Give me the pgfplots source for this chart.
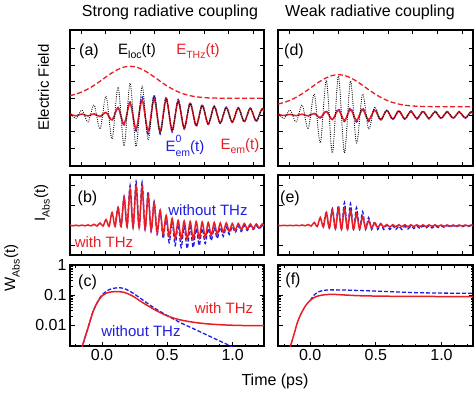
\documentclass[border=0pt]{standalone}
\usepackage{pgfplots}
\pgfplotsset{compat=1.18}
\usepackage{fontspec}
\setmainfont{Liberation Sans}
\definecolor{cred}{RGB}{232,30,36}
\definecolor{cblue}{RGB}{30,30,225}
\newcommand{\fs}{\fontsize{16}{19}\selectfont}
\newcommand{\fsa}{\fontsize{15}{18}\selectfont}
\newcommand{\sbs}[1]{\raisebox{-0.3em}{\fontsize{10.5}{12}\selectfont #1}}
\newcommand{\sps}[1]{\raisebox{0.6em}{\fontsize{10.5}{12}\selectfont #1}}
\pgfplotsset{
 panel/.style={scale only axis, width=194pt, xmin=-0.245, xmax=1.24,
  axis line style={line width=1.1pt}, tick style={line width=0.8pt,black},
  major tick length=4.5pt, minor tick length=2.5pt, tick align=inside,
  xticklabels={}, yticklabels={},
  tick label style={font=\fs}},
 osc/.style={panel, xtick={-0.16,0.028,0.216,0.404,0.592,0.78,0.968,1.156}},
 redl/.style={cred, line width=1.5pt, smooth, no markers},
 redd/.style={cred, line width=1.3pt, smooth, no markers, dash pattern=on 5pt off 2.5pt},
 bluel/.style={cblue, line width=1.3pt, smooth, no markers, dash pattern=on 4pt off 2pt},
 blackl/.style={black, line width=1.2pt, smooth, no markers, line cap=round, dash pattern=on 0pt off 2.2pt},
}
\begin{document}
\begin{tikzpicture}
\useasboundingbox (0,0) rectangle (474pt,392pt);
% ---------- (a)
\begin{axis}[osc, at={(70pt,226pt)}, anchor=south west, height=136pt, ymin=-51, ymax=85,
  ytick={-33.3,-16.7,0,16.7,33.3,50,66.7}]
\addplot[redd] coordinates {(-0.245,19.3) (-0.185,21.5) (-0.135,24.2) (-0.085,27.7) (-0.035,31.9) (0.015,36.6) (0.065,41.2) (0.115,45.1) (0.165,47.8) (0.215,48.7) (0.265,47.8) (0.315,45.1) (0.365,41.2) (0.415,36.6) (0.465,31.9) (0.515,27.7) (0.565,24.2) (0.615,21.5) (0.665,19.6) (0.715,18.3) (0.765,17.6) (0.815,17.1) (0.915,16.8) (1.015,16.7) (1.24,16.7)};
\addplot[bluel] coordinates {(-0.061,1.2) (-0.015,-1.5) (0.031,2.5) (0.077,-5) (0.123,7.5) (0.169,-10) (0.215,13) (0.261,-16) (0.307,18) (0.353,-19) (0.399,19.5) (0.445,-19) (0.491,18) (0.537,-17) (0.583,15.5) (0.629,-14) (0.675,12.5) (0.721,-11.5) (0.767,10.5) (0.813,-9.5) (0.859,9) (0.905,-8.5) (0.951,8) (0.997,-7.5) (1.043,7.5) (1.089,-7) (1.135,7) (1.181,-6.5) (1.227,6.5) (1.273,-6.5)};
\addplot[redl] coordinates {(-0.245,0.8) (-0.199,-0.8) (-0.153,1) (-0.107,-1) (-0.061,1.2) (-0.015,-1.5) (0.031,2.5) (0.077,-5) (0.123,7) (0.169,-9) (0.215,12) (0.261,-14) (0.307,15) (0.353,-16) (0.399,16) (0.445,-16.5) (0.491,16) (0.537,-15) (0.583,14) (0.629,-13) (0.675,11.5) (0.721,-10.5) (0.767,9.5) (0.813,-9) (0.859,8.5) (0.905,-8) (0.951,7.5) (0.997,-7) (1.043,7) (1.089,-6.5) (1.135,6.5) (1.181,-6) (1.227,6) (1.273,-6)};
\addplot[blackl] coordinates {(-0.245,2.5) (-0.199,-3.5) (-0.153,5) (-0.107,-7) (-0.061,10) (-0.015,-14) (0.031,19) (0.077,-24) (0.123,28) (0.169,-31) (0.215,32) (0.261,-31.5) (0.307,29) (0.353,-25) (0.399,20) (0.445,-18) (0.491,16) (0.537,-15.5) (0.583,14) (0.629,-13) (0.675,11.5) (0.721,-10.5) (0.767,9.5) (0.813,-9) (0.859,8.5) (0.905,-8) (0.951,7.5) (0.997,-7) (1.043,7) (1.089,-6.5) (1.135,6.5) (1.181,-6) (1.227,6) (1.273,-6)};
\end{axis}
% ---------- (d)
\begin{axis}[osc, at={(278pt,226pt)}, anchor=south west, height=136pt, width=195pt, ymin=-51, ymax=85,
  ytick={-33.3,-16.7,0,16.7,33.3,50,66.7}]
\addplot[redd] coordinates {(-0.245,10.9) (-0.185,13.1) (-0.135,15.8) (-0.085,19.3) (-0.035,23.5) (0.015,28.2) (0.065,32.8) (0.115,36.7) (0.165,39.4) (0.215,40.3) (0.265,39.4) (0.315,36.7) (0.365,32.8) (0.415,28.2) (0.465,23.5) (0.515,19.3) (0.565,15.8) (0.615,13.1) (0.665,11.2) (0.715,9.9) (0.765,9.2) (0.815,8.7) (0.915,8.4) (1.015,8.3) (1.24,8.3)};
\addplot[bluel] coordinates {(-0.015,-1) (0.031,1.5) (0.077,-3) (0.123,4) (0.169,-5) (0.215,6) (0.261,-6.5) (0.307,7) (0.353,-7) (0.399,7) (0.445,-6.5) (0.491,6) (0.537,-5.5) (0.583,5) (0.629,-4.8) (0.675,4.6) (0.721,-4.4) (0.767,4.2) (0.813,-4.1) (0.859,4) (0.905,-3.9) (0.951,3.8) (0.997,-3.7) (1.043,3.6) (1.089,-3.5) (1.135,3.5) (1.181,-3.4) (1.227,3.4) (1.273,-3.3)};
\addplot[redl] coordinates {(-0.245,0.5) (-0.199,-0.5) (-0.153,0.6) (-0.107,-0.7) (-0.061,0.8) (-0.015,-1) (0.031,1.5) (0.077,-2.5) (0.123,3.5) (0.169,-4.5) (0.215,5) (0.261,-5.5) (0.307,5.5) (0.353,-5.5) (0.399,5.5) (0.445,-5) (0.491,5) (0.537,-4.5) (0.583,4.5) (0.629,-4) (0.675,4) (0.721,-3.8) (0.767,3.6) (0.813,-3.5) (0.859,3.4) (0.905,-3.3) (0.951,3.2) (0.997,-3.1) (1.043,3) (1.089,-3) (1.135,2.9) (1.181,-2.8) (1.227,2.8) (1.273,-2.7)};
\addplot[blackl] coordinates {(-0.245,2.5) (-0.199,-3.5) (-0.153,5) (-0.107,-7) (-0.061,10) (-0.015,-14) (0.031,21) (0.077,-28) (0.123,35) (0.169,-38) (0.215,39) (0.261,-38) (0.307,34) (0.353,-28) (0.399,21) (0.445,-14) (0.491,8) (0.537,-5) (0.583,4.5) (0.629,-4) (0.675,4) (0.721,-3.8) (0.767,3.6) (0.813,-3.5) (0.859,3.4) (0.905,-3.3) (0.951,3.2) (0.997,-3.1) (1.043,3) (1.089,-3) (1.135,2.9) (1.181,-2.8) (1.227,2.8) (1.273,-2.7)};
\end{axis}
% ---------- (b)
\begin{axis}[osc, at={(70pt,137pt)}, anchor=south west, height=80pt, ymin=-29.5, ymax=50.5,
  ytick={-20,0,20,40}]
\addplot[bluel] coordinates {(0.100,-1) (0.123,18) (0.146,-1) (0.169,29) (0.192,-1) (0.215,40) (0.238,-2) (0.261,44) (0.284,-3) (0.307,43) (0.330,-4) (0.353,34) (0.376,-6) (0.399,24) (0.422,-9) (0.445,15) (0.468,-13) (0.491,8) (0.514,-17) (0.537,4) (0.560,-20) (0.583,1) (0.606,-22) (0.629,-1) (0.652,-23) (0.675,-2) (0.698,-22) (0.721,-3) (0.744,-20) (0.767,-3) (0.790,-18) (0.813,-3) (0.836,-15) (0.859,-2.5) (0.882,-13) (0.905,-2) (0.928,-11) (0.951,-1.5) (0.974,-9) (0.997,-1) (1.020,-7) (1.043,-0.5) (1.066,-6) (1.089,0) (1.112,-5) (1.135,0) (1.158,-4) (1.181,0) (1.204,-3.5) (1.227,0) (1.250,-3)};
\addplot[redl] coordinates {(-0.245,0.3) (-0.222,-0.3) (-0.199,0.3) (-0.176,-0.3) (-0.153,0.4) (-0.130,-0.3) (-0.107,0.6) (-0.084,-0.4) (-0.061,1.2) (-0.038,-0.5) (-0.015,2.5) (0.008,-0.5) (0.031,6) (0.054,-0.8) (0.077,13) (0.100,-1) (0.123,18) (0.146,-1) (0.169,28) (0.192,-1) (0.215,36) (0.238,-1.5) (0.261,39) (0.284,-2) (0.307,38) (0.330,-3) (0.353,30) (0.376,-5) (0.399,22) (0.422,-7) (0.445,15) (0.468,-9) (0.491,10) (0.514,-11) (0.537,7) (0.560,-13) (0.583,5) (0.606,-13.5) (0.629,4.5) (0.652,-14) (0.675,4) (0.698,-14) (0.721,4) (0.744,-13) (0.767,3.5) (0.790,-12) (0.813,3) (0.836,-10) (0.859,3) (0.882,-9) (0.905,2.5) (0.928,-7) (0.951,2.5) (0.974,-6) (0.997,2) (1.020,-5) (1.043,2) (1.066,-4) (1.089,2) (1.112,-3.5) (1.135,1.5) (1.158,-3) (1.181,1.5) (1.204,-2.5) (1.227,1.5) (1.250,-2)};
\end{axis}
% ---------- (e)
\begin{axis}[osc, at={(278pt,137pt)}, anchor=south west, height=80pt, width=195pt, ymin=-29.5, ymax=50.5,
  ytick={-20,0,20,40}]
\addplot[bluel] coordinates {(0.100,-1.5) (0.123,13) (0.146,-2.5) (0.169,17) (0.192,-3.5) (0.215,20) (0.238,-4) (0.261,23) (0.284,-4) (0.307,22) (0.330,-4) (0.353,18) (0.376,-4) (0.399,14) (0.422,-4) (0.445,8) (0.468,-4) (0.491,4) (0.514,-4) (0.537,2) (0.560,-4) (0.583,0.5) (0.606,-4) (0.629,0) (0.652,-4) (0.675,-0.5) (0.698,-4) (0.721,-0.5) (0.744,-3.5) (0.767,-0.5) (0.790,-3) (0.813,-0.5) (0.836,-3) (0.859,-0.3) (0.882,-2.5) (0.905,-0.3) (0.928,-2.5) (0.951,-0.2) (0.974,-2) (0.997,-0.2) (1.020,-2) (1.043,0) (1.066,-1.5) (1.089,0) (1.112,-1.5) (1.135,0) (1.158,-1.2) (1.181,0) (1.204,-1) (1.227,0) (1.250,-1)};
\addplot[redl] coordinates {(-0.245,0.2) (-0.222,-0.2) (-0.199,0.2) (-0.176,-0.2) (-0.153,0.2) (-0.130,-0.2) (-0.107,0.3) (-0.084,-0.2) (-0.061,0.5) (-0.038,-0.3) (-0.015,1) (0.008,-0.5) (0.031,3) (0.054,-1) (0.077,8) (0.100,-1.5) (0.123,13) (0.146,-2.5) (0.169,15.5) (0.192,-3.5) (0.215,17) (0.238,-4) (0.261,17) (0.284,-4) (0.307,15) (0.330,-4) (0.353,12) (0.376,-3.5) (0.399,9) (0.422,-3) (0.445,5) (0.468,-2.5) (0.491,2.5) (0.514,-2) (0.537,1.5) (0.560,-1.5) (0.583,1) (0.606,-1.5) (0.629,0.8) (0.652,-1.2) (0.675,0.8) (0.698,-1.2) (0.721,0.8) (0.744,-1.2) (0.767,0.7) (0.790,-1) (0.813,0.7) (0.836,-1) (0.859,0.6) (0.882,-1) (0.905,0.6) (0.928,-0.8) (0.951,0.6) (0.974,-0.8) (0.997,0.5) (1.020,-0.8) (1.043,0.5) (1.066,-0.7) (1.089,0.5) (1.112,-0.6) (1.135,0.5) (1.158,-0.6) (1.181,0.5) (1.204,-0.5) (1.227,0.5) (1.250,-0.5)};
\end{axis}
% ---------- (c)
\begin{axis}[panel, at={(70pt,46pt)}, anchor=south west, height=81pt, ymode=log, ymin=0.002, ymax=1,
  ytick={0.01,0.1,1}, yticklabels={0.01,0.1,1}, xtick={0,0.5,1}, xticklabels={0.0,0.5,1.0},
  minor xtick={-0.2,-0.1,0.1,0.2,0.3,0.4,0.6,0.7,0.8,0.9,1.1,1.2}]
\addplot[bluel] coordinates {(-0.16,0.0015) (-0.147,0.0022) (-0.108,0.0078) (-0.07,0.027) (-0.019,0.078) (0.01,0.11) (0.04,0.14) (0.08,0.165) (0.134,0.175) (0.18,0.158) (0.235,0.117) (0.311,0.069) (0.4,0.037) (0.515,0.019) (0.6,0.012) (0.693,0.0078) (0.82,0.0043) (0.973,0.0021) (1.05,0.0014)};
\addplot[redl] coordinates {(-0.16,0.0015) (-0.147,0.0022) (-0.128,0.0042) (-0.108,0.0078) (-0.09,0.014) (-0.07,0.027) (-0.045,0.048) (-0.019,0.074) (0.005,0.098) (0.032,0.115) (0.06,0.125) (0.09,0.129) (0.121,0.13) (0.17,0.122) (0.23,0.095) (0.311,0.056) (0.4,0.033) (0.49,0.021) (0.58,0.0155) (0.693,0.0125) (0.8,0.011) (0.948,0.0100) (1.1,0.0096) (1.24,0.0095)};
\end{axis}
% ---------- (f)
\begin{axis}[panel, at={(278pt,46pt)}, anchor=south west, height=81pt, width=195pt, ymode=log, ymin=0.002, ymax=1,
  ytick={0.01,0.1,1}, xtick={0,0.5,1}, xticklabels={0.0,0.5,1.0},
  minor xtick={-0.2,-0.1,0.1,0.2,0.3,0.4,0.6,0.7,0.8,0.9,1.1,1.2}]
\addplot[bluel] coordinates {(0.0,0.066) (0.03,0.1) (0.06,0.125) (0.1,0.142) (0.15,0.148) (0.25,0.147) (0.4,0.14) (0.6,0.13) (0.8,0.12) (1.0,0.116) (1.24,0.114)};
\addplot[redl] coordinates {(-0.16,0.0015) (-0.147,0.0022) (-0.12,0.0055) (-0.095,0.013) (-0.065,0.026) (-0.032,0.046) (0.0,0.066) (0.019,0.077) (0.05,0.09) (0.095,0.1) (0.15,0.105) (0.2,0.104) (0.3,0.098) (0.4,0.094) (0.6,0.091) (0.8,0.09) (1.0,0.089) (1.24,0.088)};
\end{axis}
% ---------- texts
\node[font=\fs] at (170pt,380pt) {Strong radiative coupling};
\node[font=\fs] at (370pt,380pt) {Weak radiative coupling};
\node[font=\fs] at (89pt,341pt) {(a)};
\node[font=\fsa] at (137pt,341pt) {E\sbs{loc}(t)};
\node[font=\fsa, text=cred] at (198pt,341pt) {E\sbs{THz}(t)};
\node[font=\fsa, text=cblue] at (185pt,246pt) {E\rlap{\sps{0}}\sbs{em}(t)};
\node[font=\fsa, text=cred] at (240pt,246pt) {E\sbs{em}(t)};
\node[font=\fs] at (294pt,341pt) {(d)};
\node[font=\fs] at (87.5pt,194pt) {(b)};
\node[font=\fsa, text=cblue] at (208pt,182pt) {without THz};
\node[font=\fsa, text=cred] at (104pt,150pt) {with THz};
\node[font=\fs] at (290pt,194pt) {(e)};
\node[font=\fs] at (87.5pt,110pt) {(c)};
\node[font=\fsa, text=cred] at (224pt,84pt) {with THz};
\node[font=\fsa, text=cblue] at (141pt,61pt) {without THz};
\node[font=\fs] at (293pt,112pt) {(f)};
\node[font=\fs] at (275pt,11pt) {Time (ps)};
\node[font=\fsa, rotate=90] at (43.5pt,304.5pt) {Electric Field};
\node[font=\fsa, rotate=90] at (42pt,189pt) {I\sbs{Abs}(t)};
\node[font=\fsa, rotate=90] at (12pt,124pt) {W\sbs{Abs}(t)};
\end{tikzpicture}
\end{document}
